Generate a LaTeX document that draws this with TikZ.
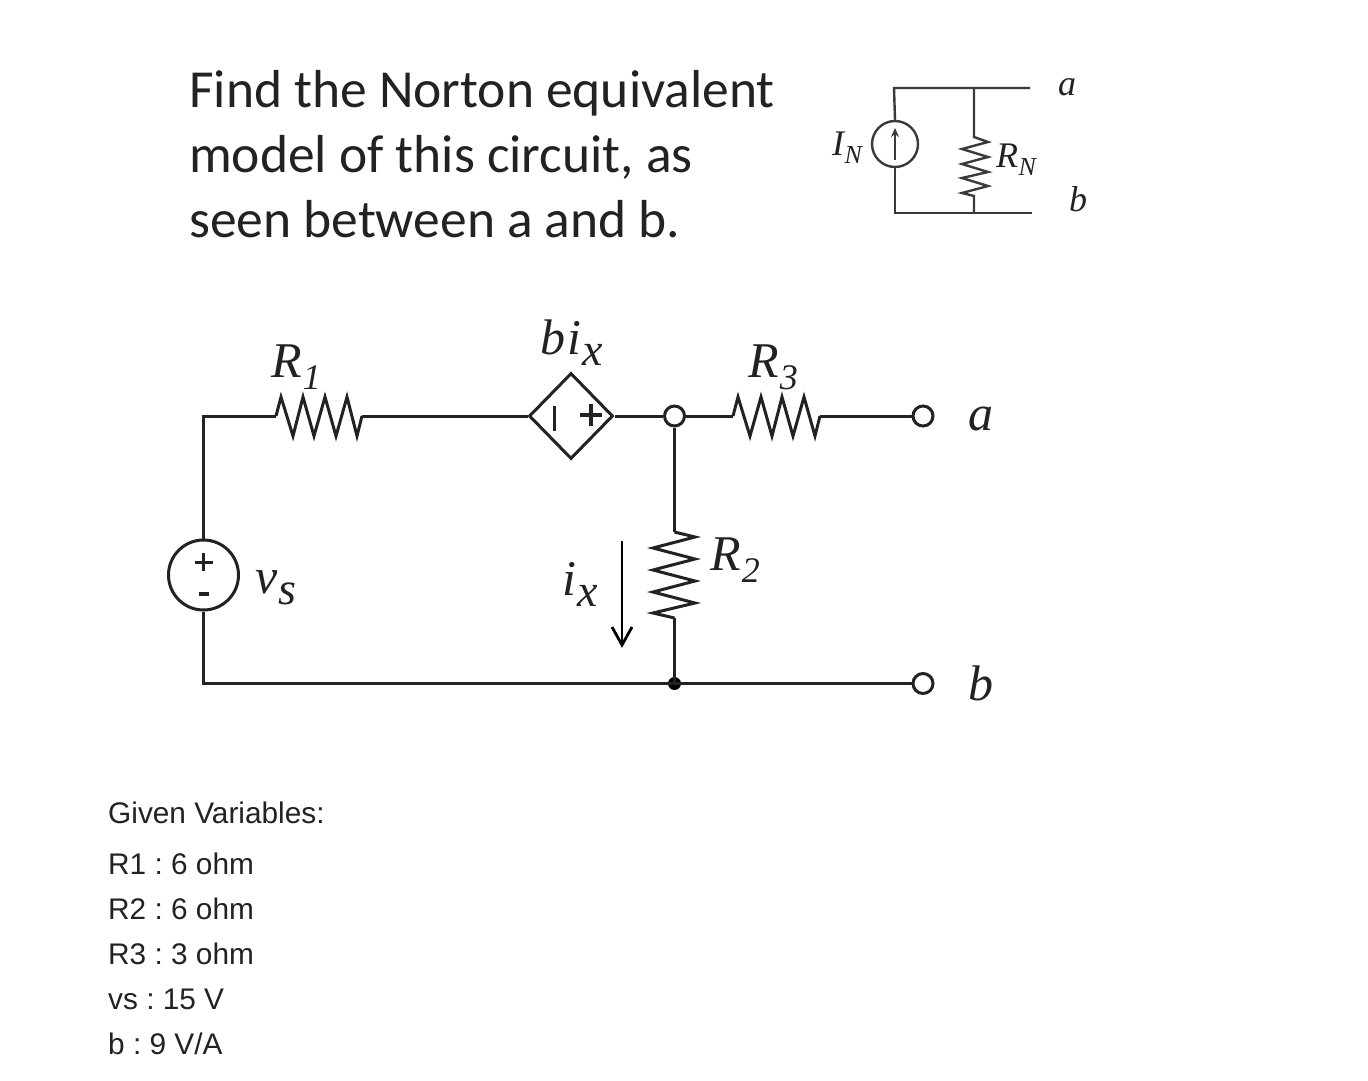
\documentclass[tikz,border=0pt]{standalone}
\usepackage{graphicx}
\usepackage{fontspec}
\newfontfamily\titlefont{Carlito}
\newfontfamily\givenfont{Liberation Sans}
\newfontfamily\varfont{Liberation Serif}
\usetikzlibrary{arrows.meta,shapes.geometric}
\definecolor{ink}{HTML}{222222}
\definecolor{inkb}{HTML}{3A3A3A}
\newcommand{\subbed}[2]{#1\kern.02em\raisebox{-.24em}{\scalebox{.72}{#2}}}
\newcommand{\subbedw}[2]{#1\kern.03em\raisebox{-.22em}{\scalebox{.92}{#2}}}
\tikzset{
  x=1pt,y=-1pt,
  wire/.style={draw=ink,line width=3pt,line join=miter},
  thinwire/.style={draw=inkb,line width=2.4pt,line join=miter},
  sym/.style={draw=ink,line width=3pt},
  terminal/.style={circle,draw=ink,line width=3pt,fill=white,minimum size=20pt,inner sep=0pt},
  srccircle/.style={circle,draw=ink,line width=3pt,fill=white,minimum size=70pt,inner sep=0pt},
  insetcircle/.style={circle,draw=inkb,line width=2.4pt,fill=white,minimum size=46pt,inner sep=0pt},
  depsrc/.style={diamond,aspect=1,draw=ink,line width=3pt,fill=white,minimum width=84pt,minimum height=86pt,inner sep=0pt},
  junction/.style={circle,fill=black,minimum size=13pt,inner sep=0pt},
  titletext/.style={anchor=base west,inner sep=0pt,text=ink,font=\titlefont\fontsize{53.5}{58}\selectfont},
  giventext/.style={anchor=base west,inner sep=0pt,text=ink,font=\givenfont\fontsize{29.8}{32}\selectfont\frenchspacing},
  mlabel/.style={anchor=base,inner sep=0pt,text=ink,font=\varfont\itshape\fontsize{50}{54}\selectfont},
  slabel/.style={anchor=base,inner sep=0pt,text=ink,font=\varfont\itshape\fontsize{36}{40}\selectfont},
}
\begin{document}
\begin{tikzpicture}
\useasboundingbox (0,0) rectangle (1368,1080);
% problem text
\node[titletext] (t1) at (189,107) {Find the Norton equivalent};
\node[titletext] (t2) at (189,172) {model of this circuit, as};
\node[titletext] (t3) at (189,237) {seen between a and b.};
% main circuit anchors
\coordinate (tl) at (203.5,416);
\coordinate (bl) at (203.5,683.5);
\coordinate (r1a) at (276,416);
\coordinate (r1b) at (362,416);
\coordinate (r3a) at (733,416);
\coordinate (r3b) at (820,416);
\coordinate (r2a) at (674.5,532);
\coordinate (r2b) at (674.5,618);
\coordinate (ixa) at (622,541);
\coordinate (ixb) at (622,645);
\node[srccircle] (src) at (203.5,575) {};
\node[depsrc] (dep) at (571,416) {};
\node[terminal] (n1) at (674.5,416) {};
\node[terminal] (ta) at (923,416) {};
\node[terminal] (tb) at (923,683.5) {};
\node[junction] (dot) at (674.5,683.5) {};
% main wires
\draw[wire] (src.north) -- (tl) -- (r1a);
\draw[wire] (r1a) -- (281,397) -- (293,436) -- (303,397) -- (314,436) -- (325,397) -- (336,436) -- (347,397) -- (357,436) -- (r1b);
\draw[wire] (r1b) -- (dep.west);
\draw[wire] (dep.east) -- (n1.west);
\draw[wire] (n1.east) -- (r3a);
\draw[wire] (r3a) -- (738,397) -- (750,436) -- (761,397) -- (772,436) -- (782,397) -- (793,436) -- (804,397) -- (815,436) -- (r3b);
\draw[wire] (r3b) -- (ta.west);
\draw[wire] (n1.south) -- (r2a);
\draw[wire] (r2a) -- (695,537) -- (653,548) -- (695,559) -- (653,570) -- (695,581) -- (653,592) -- (695,603) -- (653,613) -- (r2b);
\draw[wire] (r2b) -- (dot.center);
\draw[wire] (src.south) -- (bl) -- (dot.center) -- (tb.west);
\draw[line width=2.8pt,draw=black] (ixa) -- (ixb);
\draw[line width=2.8pt,draw=black,line join=miter] (612,627) -- (ixb) -- (632,627);
% source marks
\draw[sym] (194.5,562) -- (212.5,562) (203.5,553) -- (203.5,571);
\draw[sym,line width=3.5pt] (198.5,594) -- (208.5,594);
\draw[sym] (554,406) -- (554,431);
\draw[sym,line width=3.5pt] (580,415) -- (602,415) (591,404) -- (591,426);
% main labels
\node[mlabel] (lr1) at (296,377) {\subbed{R}{1}};
\node[mlabel] (lbix) at (572,354) {\subbedw{b\kern.04em i}{x}};
\node[mlabel] (lr3) at (773,377) {\subbed{R}{3}};
\node[mlabel] (lr2) at (735,570) {\subbed{R}{2}};
\node[mlabel] (lvs) at (276,593) {\subbedw{v}{s}};
\node[mlabel] (lix) at (580,595) {\subbedw{i}{x}};
\node[mlabel] (la) at (981,430) {a};
\node[mlabel] (lb) at (981,700) {b};
% inset circuit
\coordinate (itl) at (894,88);
\coordinate (ibl) at (895,213);
\coordinate (ia) at (1030,88);
\coordinate (ib) at (1032,213);
\coordinate (ira) at (974,88);
\coordinate (irt) at (974,137);
\coordinate (irb) at (974,196);
\coordinate (irc) at (974,213);
\node[insetcircle] (isrc) at (895,144) {};
\draw[thinwire] (isrc.north) -- (itl) -- (ia);
\draw[thinwire] (isrc.south) -- (ibl) -- (ib);
\draw[thinwire] (ira) -- (irt) -- (988,142) -- (962,149) -- (988,157) -- (962,164) -- (988,172) -- (962,178) -- (988,186) -- (962,193) -- (irb) -- (irc);
\draw[draw=inkb,line width=2pt,-{Stealth[length=9pt,width=8pt]}] (895,160) -- (895,128);
\node[slabel] (lin) at (847,155) {\subbed{I}{N}};
\node[slabel] (lrn) at (1016,167) {\subbed{R}{N}};
\node[slabel] (lia) at (1067,95) {a};
\node[slabel] (lib) at (1078,211) {b};
% given variables
\node[giventext] (g0) at (108,823) {Given Variables:};
\node[giventext] (g1) at (108,874) {R1 : 6 ohm};
\node[giventext] (g2) at (108,919) {R2 : 6 ohm};
\node[giventext] (g3) at (108,964) {R3 : 3 ohm};
\node[giventext] (g4) at (108,1009) {vs : 15 V};
\node[giventext] (g5) at (108,1054) {b : 9 V/A};
\end{tikzpicture}
\end{document}
